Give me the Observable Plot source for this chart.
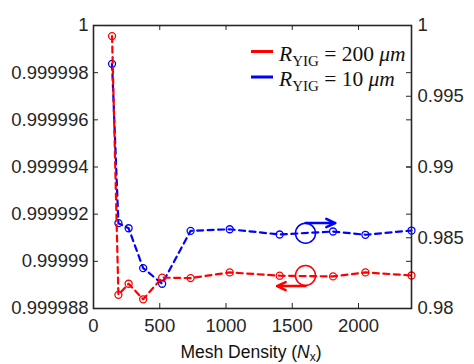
<!DOCTYPE html>
<html>
<head>
<meta charset="utf-8">
<script src="https://cdn.jsdelivr.net/npm/d3@7"></script>
<script src="https://cdn.jsdelivr.net/npm/@observablehq/plot@0.6"></script>
<style>
  html, body { margin: 0; padding: 0; background: #fff; }
  #chart { width: 474px; height: 364px; }
</style>
</head>
<body>
<div id="chart"></div>
<script>
// ---- Data ----
const meshN = [140, 188, 265, 375, 518, 733, 1028, 1405, 1808, 2052, 2400];
const red200 = [0.99999955, 0.99998858, 0.99998905, 0.99998839, 0.99998931, 0.99998929,
                0.99998953, 0.99998939, 0.99998936, 0.99998953, 0.99998940];   // left axis
const blue10 = [0.99729, 0.98603, 0.98567, 0.98285, 0.98175, 0.98549,
                0.98560, 0.98523, 0.98544, 0.98521, 0.98551];                   // right axis

const xTicks = [0, 500, 1000, 1500, 2000];
const leftTicks = [0.999988, 0.99999, 0.999992, 0.999994, 0.999996, 0.999998, 1];
const leftTickLabels = ["0.999988", "0.99999", "0.999992", "0.999994", "0.999996", "0.999998", "1"];
const rightTicks = [0.98, 0.985, 0.99, 0.995, 1];
const rightTickLabels = ["0.98", "0.985", "0.99", "0.995", "1"];

const seriesValues = ["200", "10"];
const seriesColors = ["#ff0000", "#0000ff"];

// annotation circles (x, value on own axis) and arrows
const annotX = 1600;
const annotBlueY = 0.98532;      // right axis
const annotRedY = 0.99998940;    // left axis
const arrowBlue = {x1: 1600, x2: 1825, y: 0.98604};     // right axis
const arrowRed = {x1: 1600, x2: 1385, y: 0.99998895};   // left axis

// ---- Layout ----
const W = 474, H = 364;
const mL = 93, mR = 63, mT = 25, mB = 56;
const plotW = W - mL - mR, plotH = H - mT - mB;
const ink = "#262626";

// map right-axis values into the left-axis domain
const rightToLeft = d3.scaleLinear().domain([0.98, 1]).range([0.999988, 1]);

const redRows = meshN.map((x, i) => ({x, y: red200[i]}));
const blueRows = meshN.map((x, i) => ({x, y: rightToLeft(blue10[i])}));
const rightTicksMapped = rightTicks.map(rightToLeft);

const dash = "6,4.5";

const plot = Plot.plot({
  width: W, height: H,
  marginLeft: mL, marginRight: mR, marginTop: mT, marginBottom: mB,
  style: {fontFamily: "'Liberation Sans', Arial, sans-serif", fontSize: "18.5px", color: ink, background: "#fff"},
  x: {domain: [0, 2400]},
  y: {domain: [0.999988, 1]},
  marks: [
    Plot.line(blueRows, {x: "x", y: "y", stroke: seriesColors[1], strokeWidth: 2.2, strokeDasharray: dash}),
    Plot.dot(blueRows, {x: "x", y: "y", r: 3.5, stroke: seriesColors[1], fill: "none", strokeWidth: 1.3}),
    Plot.line(redRows, {x: "x", y: "y", stroke: seriesColors[0], strokeWidth: 2.2, strokeDasharray: dash}),
    Plot.dot(redRows, {x: "x", y: "y", r: 3.5, stroke: seriesColors[0], fill: "none", strokeWidth: 1.3}),
    Plot.dot([{x: annotX, y: rightToLeft(annotBlueY)}], {x: "x", y: "y", r: 10, stroke: seriesColors[1], strokeWidth: 1.5, fill: "none"}),
    Plot.dot([{x: annotX, y: annotRedY}], {x: "x", y: "y", r: 10, stroke: seriesColors[0], strokeWidth: 1.5, fill: "none"}),
    Plot.arrow([arrowBlue], {x1: "x1", x2: "x2", y1: d => rightToLeft(d.y), y2: d => rightToLeft(d.y), stroke: seriesColors[1], strokeWidth: 2.5, headLength: 9, headAngle: 50}),
    Plot.arrow([arrowRed], {x1: "x1", x2: "x2", y1: "y", y2: "y", stroke: seriesColors[0], strokeWidth: 2.5, headLength: 9, headAngle: 50}),
    Plot.tickY(leftTicks, {stroke: ink, insetRight: plotW - 5, strokeWidth: 1}),
    Plot.tickY([...leftTicks, ...rightTicksMapped], {stroke: ink, insetLeft: plotW - 5, strokeWidth: 1}),
    Plot.tickX(xTicks, {stroke: ink, insetTop: plotH - 5, strokeWidth: 1}),
    Plot.tickX(xTicks, {stroke: ink, insetBottom: plotH - 5, strokeWidth: 1}),
    Plot.axisY(leftTicks, {anchor: "left", tickSize: 0, tickPadding: 5, label: null,
      tickFormat: d => leftTickLabels[leftTicks.indexOf(d)], fill: ink}),
    Plot.axisY(rightTicksMapped, {anchor: "right", tickSize: 0, tickPadding: 6, label: null,
      tickFormat: d => rightTickLabels[rightTicksMapped.indexOf(d)], fill: ink}),
    Plot.axisX(xTicks, {anchor: "bottom", tickSize: 0, tickPadding: 10, label: null,
      tickFormat: d => String(d), fill: ink}),
    Plot.frame({stroke: ink, strokeWidth: 1.6})
  ]
});

document.getElementById("chart").appendChild(plot);

// ---- x-axis title and legend (rich text) ----
const svg = d3.select(plot);

const xl = svg.append("text")
  .attr("x", mL + plotW / 2 - 1).attr("y", 358)
  .attr("text-anchor", "middle")
  .attr("font-family", "'Liberation Sans', Arial, sans-serif")
  .attr("font-size", 17.5).attr("fill", "#111");
xl.append("tspan").text("Mesh Density (");
xl.append("tspan").attr("font-style", "italic").text("N");
xl.append("tspan").attr("font-size", 12).attr("dy", 3).text("x");
xl.append("tspan").attr("dy", -3).text(")");

const legendRows = [
  {val: seriesValues[0], color: seriesColors[0], ly: 51.5, ty: 61},
  {val: seriesValues[1], color: seriesColors[1], ly: 77, ty: 86}
];
legendRows.forEach(r => {
  svg.append("line").attr("x1", 251).attr("x2", 273).attr("y1", r.ly).attr("y2", r.ly)
    .attr("stroke", r.color).attr("stroke-width", 3);
  const t = svg.append("text").attr("x", 279).attr("y", r.ty)
    .attr("text-anchor", "start")
    .attr("font-family", "'Liberation Serif', 'Times New Roman', serif")
    .attr("font-size", 21.5).attr("fill", "#111");
  t.append("tspan").attr("font-style", "italic").text("R");
  t.append("tspan").attr("font-size", 15).attr("dy", 5).text("YIG");
  t.append("tspan").attr("dy", -5).text(" = " + r.val + " ");
  t.append("tspan").attr("font-style", "italic").text("μm");
});
</script>
</body>
</html>
